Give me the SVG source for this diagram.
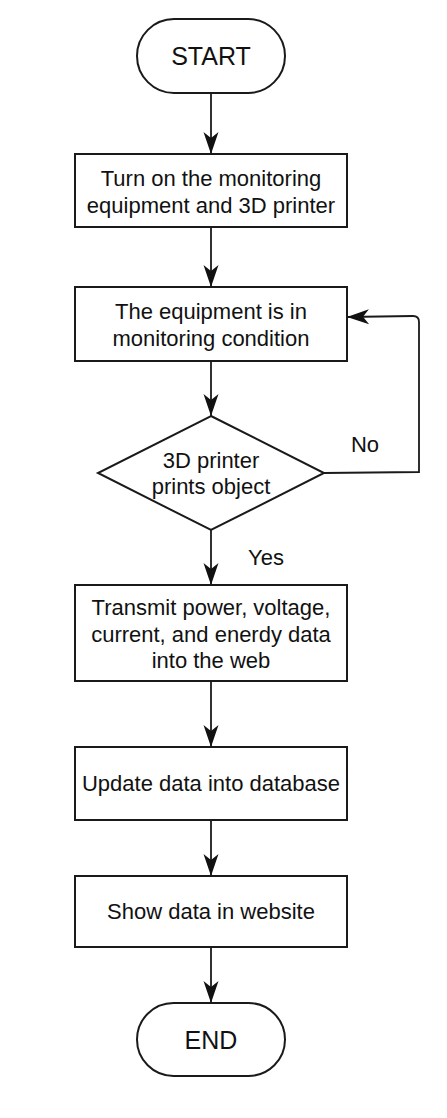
<svg xmlns="http://www.w3.org/2000/svg" width="447" height="1118" viewBox="0 0 447 1118">
<defs>
<style>
.shape{fill:#fff;stroke:#1a1a1a;stroke-width:2}
.t{font-family:"Liberation Sans",Arial,sans-serif;font-size:22px;fill:#111;text-anchor:middle}
.tb{font-family:"Liberation Sans",Arial,sans-serif;font-size:25px;fill:#111;text-anchor:middle}
.c{fill:none;stroke:#1a1a1a;stroke-width:1.8}
</style>
<marker id="ah" markerUnits="userSpaceOnUse" markerWidth="24" markerHeight="18" viewBox="-23 -9 24 18" refX="0" refY="0" orient="auto">
<path d="M0,0 L-22,-7.5 L-16,0 L-22,7.5 Z" fill="#111"/>
</marker>
</defs>
<rect width="447" height="1118" fill="#fff"/>
<g id="connectors">
<line class="c" x1="211" y1="93" x2="211" y2="154" marker-end="url(#ah)"/>
<line class="c" x1="211" y1="227" x2="211" y2="287" marker-end="url(#ah)"/>
<line class="c" x1="211" y1="361" x2="211" y2="416" marker-end="url(#ah)"/>
<line class="c" x1="211" y1="530" x2="211" y2="585" marker-end="url(#ah)"/>
<line class="c" x1="211" y1="681" x2="211" y2="747" marker-end="url(#ah)"/>
<line class="c" x1="211" y1="820" x2="211" y2="876" marker-end="url(#ah)"/>
<line class="c" x1="211" y1="947" x2="211" y2="1003" marker-end="url(#ah)"/>
<path class="c" d="M324,473 L419,472 L419,322 Q419,316 413,316 L347,317" marker-end="url(#ah)"/>
<text class="t" x="365" y="452">No</text>
<text class="t" x="266" y="565">Yes</text>
</g>
<g id="start">
<rect class="shape" x="137" y="19" width="148" height="74" rx="37" ry="37"/>
<text class="tb" x="211" y="65">START</text>
</g>
<g id="turn-on">
<rect class="shape" x="75" y="154" width="272" height="73"/>
<text class="t" x="211" y="186">Turn on the monitoring</text>
<text class="t" x="211" y="213">equipment and 3D printer</text>
</g>
<g id="monitoring">
<rect class="shape" x="75" y="287" width="272" height="74"/>
<text class="t" x="211" y="319">The equipment is in</text>
<text class="t" x="211" y="346">monitoring condition</text>
</g>
<g id="decision">
<polygon class="shape" points="211,416 324,473 211,530 98,473"/>
<text class="t" x="211" y="468">3D printer</text>
<text class="t" x="211" y="494">prints object</text>
</g>
<g id="transmit">
<rect class="shape" x="75" y="585" width="272" height="96"/>
<text class="t" x="211" y="615">Transmit power, voltage,</text>
<text class="t" x="211" y="642">current, and enerdy data</text>
<text class="t" x="211" y="668">into the web</text>
</g>
<g id="update">
<rect class="shape" x="75" y="747" width="272" height="73"/>
<text class="t" x="211" y="791">Update data into database</text>
</g>
<g id="show">
<rect class="shape" x="75" y="876" width="272" height="71"/>
<text class="t" x="211" y="919">Show data in website</text>
</g>
<g id="end">
<rect class="shape" x="137" y="1003" width="148" height="73" rx="36.5" ry="36.5"/>
<text class="tb" x="211" y="1049">END</text>
</g>
</svg>
